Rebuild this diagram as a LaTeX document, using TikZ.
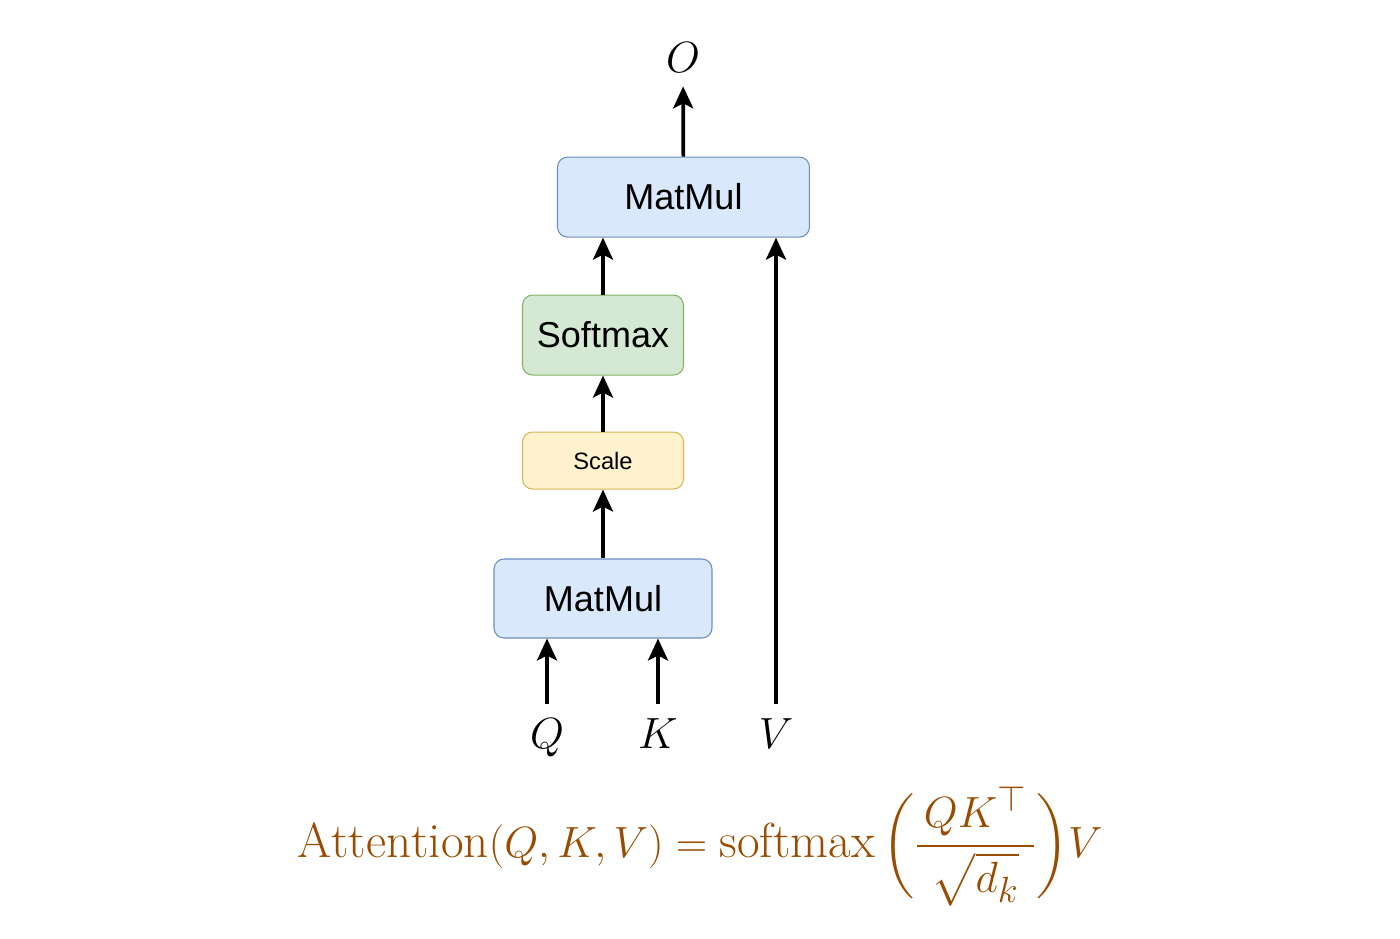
\documentclass[tikz,border=0pt]{standalone}
\usepackage{amsmath}
\usepackage{fontspec}
\usetikzlibrary{positioning,arrows.meta}

\newfontfamily\boxfont{Liberation Sans}
\definecolor{mmFill}{HTML}{DAE8FC}
\definecolor{mmLine}{HTML}{6C8EBF}
\definecolor{smFill}{HTML}{D5E8D4}
\definecolor{smLine}{HTML}{82B366}
\definecolor{scFill}{HTML}{FFF2CC}
\definecolor{scLine}{HTML}{D6B656}
\definecolor{eqColor}{RGB}{153,76,0}

\begin{document}
\begin{tikzpicture}[x=0.02cm,y=-0.02cm,node distance=2.76cm,on grid,
    block/.style={draw,rounded corners=0.2cm,line width=0.6pt,inner sep=0pt,
        font=\boxfont\fontsize{20.5}{24}\selectfont},
    lbl/.style={inner sep=0.28cm,anchor=base,font=\fontsize{24}{28}\selectfont},
    arr/.style={-{Stealth[length=0.44cm,width=0.4cm,inset=0.1cm]},line width=2.1pt}]
        \useasboundingbox (0,0) rectangle (1400,938);
        \node[block,fill=mmFill,draw=mmLine,minimum width=4.36cm,minimum height=1.58cm] (mm_1) at (603,598.5) {MatMul};
        \node[block,fill=scFill,draw=scLine,minimum width=3.22cm,minimum height=1.14cm,
            font=\boxfont\fontsize{13.5}{16}\selectfont] (sc) [above=of mm_1] {Scale};
        \node[block,fill=smFill,draw=smLine,minimum width=3.22cm,minimum height=1.6cm] (sm) [above=2.51cm of sc] {Softmax};
        \node[block,fill=mmFill,draw=mmLine,minimum width=5.04cm,minimum height=1.6cm] (mm_2) [above=of sm, xshift=1.61cm] {MatMul};

        \node[lbl] (q) at (547,748) {$Q$};
        \node[lbl] (k) at (658,748) {$K$};
        \node[lbl] (v) at (776,748) {$V$};
        \node[lbl] (o) at (683,72) {$O$};

        \node[anchor=base,text=eqColor,font=\fontsize{28}{33}\selectfont] (eq) at (700,857)
            {$\mathrm{Attention}(Q,K,V)=\operatorname{softmax}\,\biggl(\dfrac{\,QK^{\top}\,}{\sqrt{d_k}}\biggr)V$};

        \path[arr]
        (mm_1) edge (sc)
        (sc) edge (sm)
        (mm_2) edge (o)
        ;
        \draw[arr] (sm) -- (sm |- mm_2.south);
        \draw[arr] (q) -- (q |- mm_1.south);
        \draw[arr] (k) -- (k |- mm_1.south);
        \draw[arr] (v) -- (v |- mm_2.south);
\end{tikzpicture}
\end{document}
